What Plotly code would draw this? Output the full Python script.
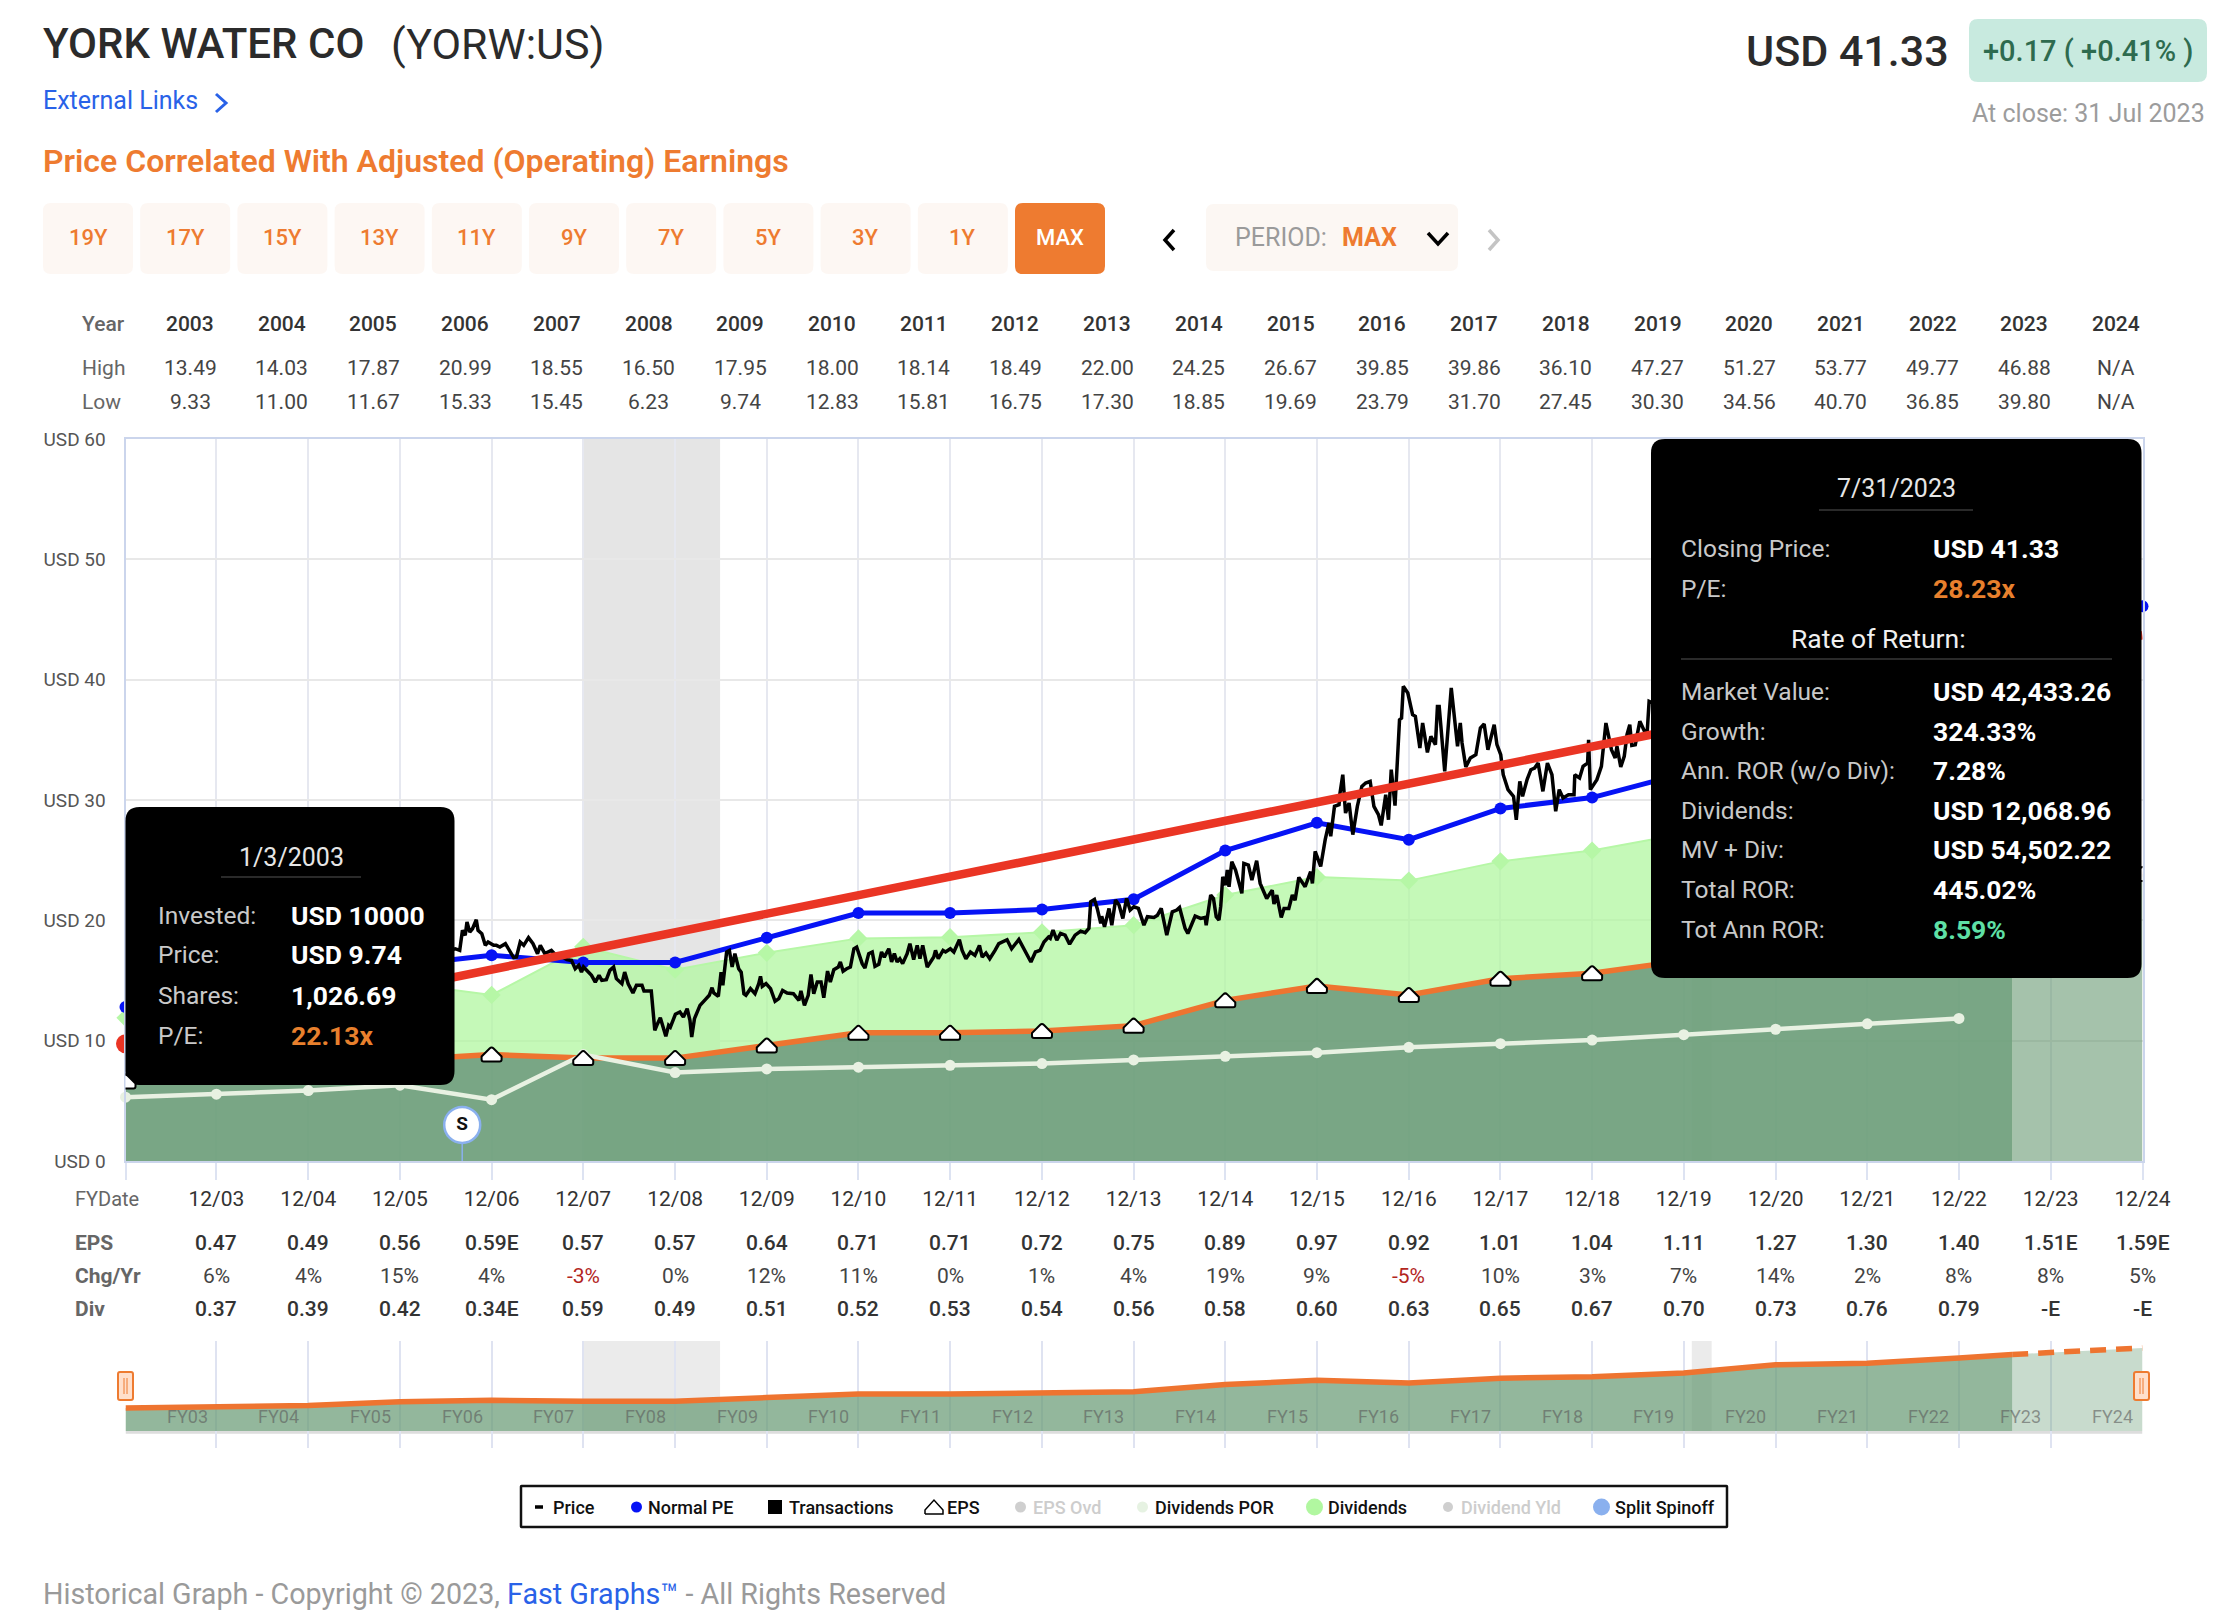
import datetime as dt
import plotly.graph_objects as go

W, H = 2236, 1618
FONT = "Roboto"

# ---------- data ----------
table_years = ["2003","2004","2005","2006","2007","2008","2009","2010","2011","2012","2013","2014","2015","2016","2017","2018","2019","2020","2021","2022","2023","2024"]
table_high = ["13.49","14.03","17.87","20.99","18.55","16.50","17.95","18.00","18.14","18.49","22.00","24.25","26.67","39.85","39.86","36.10","47.27","51.27","53.77","49.77","46.88","N/A"]
table_low = ["9.33","11.00","11.67","15.33","15.45","6.23","9.74","12.83","15.81","16.75","17.30","18.85","19.69","23.79","31.70","27.45","30.30","34.56","40.70","36.85","39.80","N/A"]

fy_labels = ["12/03","12/04","12/05","12/06","12/07","12/08","12/09","12/10","12/11","12/12","12/13","12/14","12/15","12/16","12/17","12/18","12/19","12/20","12/21","12/22","12/23","12/24"]
fy_dates = ["2003-12-31","2004-12-31","2005-12-31","2006-12-31","2007-12-31","2008-12-31","2009-12-31","2010-12-31","2011-12-31","2012-12-31","2013-12-31","2014-12-31","2015-12-31","2016-12-31","2017-12-31","2018-12-31","2019-12-31","2020-12-31","2021-12-31","2022-12-31","2023-12-31","2024-12-31"]
eps_text = ["0.47","0.49","0.56","0.59E","0.57","0.57","0.64","0.71","0.71","0.72","0.75","0.89","0.97","0.92","1.01","1.04","1.11","1.27","1.30","1.40","1.51E","1.59E"]
chg_text = ["6%","4%","15%","4%","-3%","0%","12%","11%","0%","1%","4%","19%","9%","-5%","10%","3%","7%","14%","2%","8%","8%","5%"]
div_text = ["0.37","0.39","0.42","0.34E","0.59","0.49","0.51","0.52","0.53","0.54","0.56","0.58","0.60","0.63","0.65","0.67","0.70","0.73","0.76","0.79","-E","-E"]
mini_labels = ["FY03","FY04","FY05","FY06","FY07","FY08","FY09","FY10","FY11","FY12","FY13","FY14","FY15","FY16","FY17","FY18","FY19","FY20","FY21","FY22","FY23","FY24"]
button_labels = ["19Y","17Y","15Y","13Y","11Y","9Y","7Y","5Y","3Y","1Y","MAX"]
y_tick_vals = [0, 10, 20, 30, 40, 50, 60]
y_tick_text = ["USD 0","USD 10","USD 20","USD 30","USD 40","USD 50","USD 60"]

start_date = "2003-01-03"
last_close = "2023-07-31"
end_date = "2024-12-31"

# fitted lines at the start date and at each fiscal year end
eps_line = [6.6,7.05,7.35,8.4,8.85,8.55,8.55,9.6,10.65,10.65,10.8,11.25,13.35,14.55,13.8,15.15,15.6,16.65,19.05,19.5,21.0,22.65,23.85]
eps_at_close = 22.0
normal_pe = [12.8,13.65,14.2,16.25,17.1,16.5,16.5,18.55,20.6,20.6,20.9,21.75,25.8,28.1,26.7,29.3,30.2,32.2,36.8,37.7,40.6,43.8,46.1]
dividends_top = [11.9,12.4,13.1,14.8,13.8,17.8,15.9,17.3,18.5,18.6,19.0,19.6,22.1,23.6,23.3,24.9,25.8,27.2,28.6,29.7,31.0]
dividends_at_close = 32.0
dividends_por = [5.3,5.55,5.85,6.3,5.1,8.85,7.35,7.65,7.8,7.95,8.1,8.4,8.7,9.0,9.45,9.75,10.05,10.5,10.95,11.4,11.85]
fair_value_dates = ["2003-01-03","2024-12-31"]
fair_value = [9.75,43.7]

recessions = [("2007-12-31","2009-06-28"),("2020-02-01","2020-04-20")]
split_date = ["2006-09-05"]
split_y = [3.0]

# weekly-ish closing prices (decimal year, USD)
price_t = [2003.01,2003.3,2003.6,2004.0,2004.5,2005.0,2005.5,2006.0,2006.3,
2006.60,2006.65,2006.68,2006.71,2006.73,2006.76,2006.79,2006.83,2006.85,2006.89,2006.93,2006.96,2007.02,2007.05,2007.09,2007.15,2007.20,2007.24,2007.27,2007.31,2007.35,2007.40,2007.45,2007.50,2007.53,2007.58,2007.65,2007.70,2007.76,2007.82,2007.87,2007.91,2007.95,2007.98,2008.00,2008.05,2008.09,2008.13,2008.17,2008.20,2008.25,2008.29,2008.33,2008.36,2008.42,2008.45,2008.49,2008.54,2008.58,2008.64,2008.66,2008.74,2008.76,2008.78,2008.81,2008.84,2008.87,2008.90,2008.93,2008.95,2009.00,2009.05,2009.09,2009.13,2009.16,2009.18,2009.21,2009.27,2009.33,2009.37,2009.40,2009.42,2009.47,2009.50,2009.52,2009.56,2009.59,2009.62,2009.65,2009.69,2009.72,2009.75,2009.77,
2009.82,2009.87,2009.91,2009.93,2009.95,2009.99,2010.04,2010.09,2010.13,2010.17,2010.22,2010.29,2010.35,2010.37,2010.41,2010.45,2010.48,2010.51,2010.55,2010.59,2010.62,2010.66,2010.69,2010.73,2010.78,2010.80,2010.83,2010.87,2010.91,2010.95,2010.98,2011.01,2011.04,2011.07,2011.11,2011.15,2011.18,2011.22,2011.25,2011.28,2011.33,2011.36,2011.39,2011.42,2011.45,2011.48,2011.53,2011.56,2011.60,2011.64,2011.67,2011.70,2011.75,2011.82,2011.84,2011.87,2011.92,2011.95,2012.00,2012.04,2012.10,2012.13,2012.17,2012.22,2012.27,2012.32,2012.35,2012.39,2012.43,2012.49,2012.53,2012.62,2012.67,2012.75,2012.80,2012.88,2012.93,2012.98,2013.02,2013.07,
2013.09,2013.12,2013.16,2013.20,2013.25,2013.30,2013.36,2013.42,2013.47,2013.51,2013.53,2013.57,2013.60,2013.64,2013.65,2013.68,2013.73,2013.76,2013.80,2013.84,2013.88,2013.92,2013.96,2014.00,2014.05,2014.11,2014.15,2014.22,2014.26,2014.30,2014.36,2014.42,2014.47,2014.50,2014.56,2014.59,2014.67,2014.73,2014.78,2014.79,2014.84,2014.87,2014.90,2014.93,2014.95,2014.97,2015.00,2015.02,2015.04,2015.07,2015.11,2015.15,2015.18,2015.20,2015.25,2015.29,2015.34,2015.38,2015.45,2015.51,2015.53,2015.56,2015.61,2015.64,2015.69,2015.73,2015.76,2015.80,2015.87,2015.93,2015.95,
2015.98,2016.04,2016.09,2016.13,2016.15,2016.19,2016.24,2016.25,2016.28,2016.31,2016.35,2016.39,2016.44,2016.49,2016.53,2016.58,2016.62,2016.67,2016.70,2016.75,2016.78,2016.81,2016.85,2016.87,2016.90,2016.92,2016.94,2016.99,2017.04,2017.07,2017.12,2017.15,2017.20,2017.24,2017.29,2017.31,2017.33,2017.39,2017.46,2017.53,2017.56,2017.58,2017.62,2017.67,2017.73,2017.78,
2017.82,2017.86,2017.93,2017.96,2018.00,2018.03,2018.08,2018.14,2018.17,2018.21,2018.24,2018.29,2018.33,2018.37,2018.41,2018.46,2018.51,2018.56,2018.60,2018.64,2018.68,2018.74,2018.80,2018.81,2018.86,2018.90,2018.95,2018.96,2018.98,2019.05,2019.10,2019.15,2019.21,2019.25,2019.27,2019.31,2019.35,2019.38,2019.41,2019.43,2019.47,2019.52,2019.57,2019.60,2019.62,2019.65,
2020.0,2020.5,2021.0,2021.5,2022.0,2022.5,2023.0,2023.58]
price_v = [9.74,10.5,12.0,12.5,12.0,13.5,15.0,16.5,17.0,
17.64,17.5,19.17,18.75,19.86,19.03,19.3,20.05,19.17,18.89,17.92,18.2,17.92,17.92,17.78,18.06,17.37,16.9,16.95,18.2,17.92,18.56,18.06,17.23,17.92,17.23,17.5,17.1,17.0,16.73,16.67,15.98,16.26,15.7,16.12,15.7,15.43,14.87,15.43,15.01,15.07,15.84,16.12,15.15,14.73,15.7,14.73,13.96,14.6,14.6,14.13,14.13,12.52,10.86,11.41,11.91,11.13,10.36,11.27,11.13,12.19,12.38,11.96,12.66,11.69,10.3,11.83,12.93,13.43,13.77,14.4,13.96,13.68,15.7,14.6,17.37,17.5,16.12,17.23,15.98,15.7,13.9,13.77,
14.32,13.9,14.74,15.35,14.51,14.74,14.32,13.27,13.49,14.18,13.96,13.9,13.35,14.13,12.93,13.77,15.5,13.9,14.87,14.87,13.57,15.78,14.87,15.9,16.12,16.54,15.78,15.98,16.12,17.64,17.78,17.09,16.4,16.04,17.23,17.37,16.18,16.34,17.37,16.95,17.64,16.54,17.23,16.54,16.81,16.4,17.23,18.06,16.73,17.92,16.81,17.92,16.12,16.95,17.5,16.81,17.5,17.37,17.64,17.37,18.39,17.5,16.81,17.37,17.09,17.92,16.95,17.28,16.81,17.5,18.06,18.39,17.64,18.42,17.64,16.54,17.37,17.5,18.2,18.61,
18.5,19.19,18.36,18.91,18.77,18.02,18.77,19.1,18.97,19.33,21.54,21.74,20.99,19.74,20.35,19.46,20.99,19.6,21.68,21.27,20.16,21.82,20.85,21.13,20.99,19.6,20.3,20.24,20.43,20.99,18.77,20.71,20.85,21.07,19.33,18.91,20.35,20.16,20.24,19.6,22.1,21.82,20.3,20.02,21.18,23.62,22.93,24.18,22.79,24.87,24.18,22.93,22.24,24.73,24.59,23.34,24.95,23.07,21.82,22.51,21.35,22.1,20.24,20.99,20.99,22.1,21.68,23.57,22.79,24.04,23.07,
25.73,24.48,26.7,28.09,26.98,29.47,29.61,30.58,32.1,28.92,29.75,27.12,29.47,31.13,31.41,31.55,29.47,28.78,27.89,30.44,28.36,32.52,29.53,32.24,36.67,36.81,39.45,38.89,37.09,36.95,34.32,36.4,33.96,35.29,34.6,37.78,37.78,32.38,39.31,34.46,36.4,34.74,32.74,33.49,33.77,35.98,
36.31,34.18,36.26,34.6,33.77,32.1,30.86,30.3,28.36,31.55,30.3,31.69,32.52,32.66,33.07,30.72,33.07,32.1,29.06,30.86,30.16,30.44,30.44,32.1,31.83,32.8,33.07,35.01,30.86,31.69,32.8,36.4,34.18,33.49,34.46,32.74,33.63,35.43,36.26,34.54,34.6,36.54,35.7,35.84,38.2,38.1,
40.0,38.0,42.0,39.0,47.0,41.0,45.0,41.33]

left_tip_labels = ["Invested:","Price:","Shares:","P/E:"]
left_tip_values = ["USD 10000","USD 9.74","1,026.69","22.13x"]
right_top_labels = ["Closing Price:","P/E:"]
right_top_values = ["USD 41.33","28.23x"]
right_ror_labels = ["Market Value:","Growth:","Ann. ROR (w/o Div):","Dividends:","MV + Div:","Total ROR:","Tot Ann ROR:"]
right_ror_values = ["USD 42,433.26","324.33%","7.28%","USD 12,068.96","USD 54,502.22","445.02%","8.59%"]

# ---------- helpers ----------
def X(px): return px / W
def Y(py): return 1 - py / H

def year_to_date(t):
    y = int(t)
    first = dt.date(y, 1, 1)
    return (first + dt.timedelta(days=(t - y) * 365.25)).isoformat()

shapes, annos = [], []

def text(px, py, s, size=21, color="#333", weight=400, anchor="left", xref="paper", x=None):
    annos.append(dict(xref=xref, yref="paper", x=X(px) if x is None else x, y=Y(py), text=s, showarrow=False,
                      xanchor=anchor, yanchor="middle", borderpad=0,
                      font=dict(family=FONT, size=size, color=color, weight=weight)))

def rrect(x0, y0, x1, y1, r, fill, line=None, lw=0):
    def P(a, b): return f"{X(a):.6f},{Y(b):.6f}"
    d = (f"M{P(x0+r,y0)} L{P(x1-r,y0)} Q{P(x1,y0)} {P(x1,y0+r)} L{P(x1,y1-r)} Q{P(x1,y1)} {P(x1-r,y1)} "
         f"L{P(x0+r,y1)} Q{P(x0,y1)} {P(x0,y1-r)} L{P(x0,y0+r)} Q{P(x0,y0)} {P(x0+r,y0)} Z")
    shapes.append(dict(type="path", xref="paper", yref="paper", path=d, fillcolor=fill, layer="above",
                       line=dict(color=line or fill, width=lw)))

def polyline(pts, color, lw=3):
    d = "M" + " L".join(f"{X(a):.6f},{Y(b):.6f}" for a, b in pts)
    shapes.append(dict(type="path", xref="paper", yref="paper", path=d, layer="above", line=dict(color=color, width=lw)))

def pxline(x0, y0, x1, y1, color, lw=1):
    shapes.append(dict(type="line", xref="paper", yref="paper", x0=X(x0), x1=X(x1), y0=Y(y0), y1=Y(y1),
                       layer="above", line=dict(color=color, width=lw)))

def dot(x0, x1, yc, color):
    r = (x1 - x0) / 2
    shapes.append(dict(type="circle", xref="paper", yref="paper", x0=X(x0), x1=X(x1), y0=Y(yc - r), y1=Y(yc + r),
                       fillcolor=color, layer="above", line=dict(width=0)))

# ---------- traces ----------
line_dates = [start_date] + fy_dates
ORANGE = "#EE7430"
BLUE = "#0613F5"
RED = "#EA3524"
WHITEL = "#E8F1E2"
GREEN = "#B6F7A6"

fig = go.Figure()
fig.add_trace(go.Scatter(x=line_dates[:21] + [last_close], y=dividends_top + [dividends_at_close], mode="lines",
                         fill="tozeroy", fillcolor="rgba(178,247,160,0.75)", line=dict(color=GREEN, width=2), showlegend=False))
fig.add_trace(go.Scatter(x=line_dates[:21], y=dividends_top, mode="markers", cliponaxis=False,
                         marker=dict(symbol="diamond", size=14, color=GREEN), showlegend=False))
fig.add_trace(go.Scatter(x=line_dates[:21] + [last_close], y=eps_line[:21] + [eps_at_close], mode="lines", fill="tozeroy",
                         fillcolor="rgba(88,131,111,0.7)", line=dict(color=ORANGE, width=5.5), showlegend=False))
fig.add_trace(go.Scatter(x=[last_close] + line_dates[21:], y=[eps_at_close] + eps_line[21:], mode="lines", fill="tozeroy",
                         fillcolor="rgba(91,144,102,0.55)", line=dict(color=ORANGE, width=5.5, dash="dash"), showlegend=False))
fig.add_trace(go.Scatter(x=line_dates[:21], y=dividends_por, mode="lines+markers", cliponaxis=False,
                         line=dict(color=WHITEL, width=4.5), marker=dict(size=11, color=WHITEL), showlegend=False))
fig.add_trace(go.Scatter(x=line_dates, y=normal_pe, mode="lines+markers", cliponaxis=False,
                         line=dict(color=BLUE, width=5), marker=dict(size=12, color=BLUE), showlegend=False))
fig.add_trace(go.Scatter(x=[split_date[0], split_date[0]], y=[0, split_y[0]], mode="lines",
                         line=dict(color="#8AB0EE", width=1.5), showlegend=False))
fig.add_trace(go.Scatter(x=split_date, y=split_y, mode="markers+text", text=["<b>S</b>"], textposition="middle center",
                         textfont=dict(family=FONT, size=19, color="#111"),
                         marker=dict(size=36, color="white", line=dict(color="#8AB0EE", width=2.5)), showlegend=False))
fig.add_trace(go.Scatter(x=[year_to_date(t) for t in price_t], y=price_v, mode="lines",
                         line=dict(color="black", width=3.5), showlegend=False))
fig.add_trace(go.Scatter(x=fair_value_dates, y=fair_value, mode="lines", line=dict(color=RED, width=8.5), showlegend=False))
fig.add_trace(go.Scatter(x=fair_value_dates[:1], y=fair_value[:1], mode="markers", cliponaxis=False,
                         marker=dict(size=19, color=RED), showlegend=False))

# mini navigator
fig.add_trace(go.Scatter(x=line_dates[:21] + [last_close], y=eps_line[:21] + [eps_at_close], xaxis="x2", yaxis="y2", mode="lines",
                         fill="tozeroy", fillcolor="rgba(101,152,114,0.7)", line=dict(color=ORANGE, width=5.5), showlegend=False))
fig.add_trace(go.Scatter(x=[last_close] + line_dates[21:], y=[eps_at_close] + eps_line[21:], xaxis="x2", yaxis="y2", mode="lines",
                         fill="tozeroy", fillcolor="rgba(98,152,112,0.35)", line=dict(color=ORANGE, width=5.5, dash="16px,10px"), showlegend=False))

# ---------- recession bands ----------
for a, b in recessions:
    shapes.append(dict(type="rect", xref="x", yref="y", x0=a, x1=b, y0=0, y1=60, fillcolor="#E5E5E5", layer="below", line=dict(width=0)))
    shapes.append(dict(type="rect", xref="x2", yref="y2", x0=a, x1=b, y0=0, y1=25.86, fillcolor="#EBEBEB", layer="below", line=dict(width=0)))
shapes.append(dict(type="rect", xref="x2", yref="y2", x0=start_date, x1=end_date, y0=-0.8, y1=0, fillcolor="#DDDDDD", layer="below", line=dict(width=0)))

# ---------- EPS house markers ----------
HOUSE = "M -8 -7 Q -10 -7 -10 -5 L -10 -2 L -2 6 Q 0 8 2 6 L 10 -2 L 10 -5 Q 10 -7 8 -7 Z"
def house(d, v):
    shapes.append(dict(type="path", xref="x", yref="y", xsizemode="pixel", ysizemode="pixel", xanchor=d, yanchor=v,
                       path=HOUSE, fillcolor="white", layer="above", line=dict(color="black", width=2)))
for d, v in zip(line_dates[1:], eps_line[1:]):
    house(d, v)

# ---------- header ----------
text(42, 44, "YORK WATER CO", 42, "#2B2B2B", 500)
text(390, 44, "(YORW:US)", 43, "#2B2B2B", 400)
text(42, 101, "External Links", 25, "#2962E8")
polyline([(216, 94), (226, 103), (216, 112)], "#2962E8", 3)
text(42, 161, "Price Correlated With Adjusted (Operating) Earnings", 32, "#EE7B30", 600)
text(1950, 51, "USD 41.33", 43, "#2B2B2B", 500, "right")
rrect(1969, 19, 2207, 82, 9, "#C8EADF")
text(2088, 51, "+0.17 ( +0.41% )", 29, "#2E6B4F", 500, "center")
text(2206, 114, "At close: 31 Jul 2023", 25, "#9C9C9C", 400, "right")

for i, b in enumerate(button_labels):
    x0 = 43 + 97.2 * i
    active = b == "MAX"
    rrect(x0, 203, x0 + 90, 274, 8, "#EE7B30" if active else "#FDF7F3")
    text(x0 + 45, 238, b, 22, "white" if active else "#EE7B30", 500, "center")

polyline([(1174, 230), (1165, 240), (1174, 250)], "black", 3.5)
rrect(1206, 204, 1458, 271, 8, "#FCF7F3")
text(1234, 238, "PERIOD:", 25, "#9A9A9A")
text(1341, 238, "MAX", 25, "#EE7B30", 700)
polyline([(1428, 233), (1438, 244), (1448, 233)], "black", 3.5)
polyline([(1489, 230), (1498, 240), (1489, 250)], "#C4C4C4", 3.5)

# ---------- top table ----------
text(81, 324, "Year", 21, "#666", 500)
text(81, 368, "High", 21, "#666")
text(81, 402, "Low", 21, "#666")
for i, (y, hi, lo) in enumerate(zip(table_years, table_high, table_low)):
    cx = 190 + 91.72 * i
    text(cx, 324, y, 21, "#333", 500, "center")
    text(cx, 368, hi, 21, "#444", 400, "center")
    text(cx, 402, lo, 21, "#444", 400, "center")

# ---------- bottom table ----------
text(74, 1199, "FYDate", 20, "#666")
text(74, 1243, "EPS", 21, "#666", 700)
text(74, 1276, "Chg/Yr", 21, "#666", 700)
text(74, 1309, "Div", 21, "#666", 700)
for d, e, c, v in zip(fy_dates, eps_text, chg_text, div_text):
    text(0, 1243, e, 21, "#333", 500, "center", "x", d)
    text(0, 1276, c, 21, "#B3261E" if c.startswith("-") else "#444", 400, "center", "x", d)
    text(0, 1309, v, 21, "#333", 500, "center", "x", d)

# ---------- navigator details ----------
for i, lab in enumerate(mini_labels):
    text(187 + 91.67 * i, 1416, lab, 18, "rgba(90,90,90,0.6)", 400, "center")
for x0 in (118, 2134):
    rrect(x0, 1372, x0 + 15, 1400, 2, "#FFDFCB", "#EE7B30", 2)
    pxline(x0 + 6, 1378, x0 + 6, 1394, "#EE7B30", 1)
    pxline(x0 + 9, 1378, x0 + 9, 1394, "#EE7B30", 1)

# ---------- legend ----------
rrect(521, 1486, 1727, 1527, 0.5, "white", "#111", 2.5)
LY = 1507
pxline(535, LY, 543, LY, "black", 3.5)
text(552, LY, "Price", 18, "#111", 500)
dot(631, 642, LY, "#0613F5")
text(647, LY, "Normal PE", 18, "#111", 500)
shapes.append(dict(type="rect", xref="paper", yref="paper", x0=X(768), x1=X(782), y0=Y(1514), y1=Y(1500), fillcolor="black", layer="above", line=dict(width=0)))
text(788, LY, "Transactions", 18, "#111", 500)
polyline([(925, 1514), (925, 1510), (934, 1500), (943, 1510), (943, 1514), (925, 1514)], "black", 1.5)
text(946, LY, "EPS", 18, "#111", 500)
dot(1015, 1026, LY, "#CFCFCF")
text(1032, LY, "EPS Ovd", 18, "#CDCDCD", 500)
dot(1137, 1148, LY, "#E6F2E2")
text(1154, LY, "Dividends POR", 18, "#111", 500)
dot(1306, 1323, LY, "#B1F7A0")
text(1327, LY, "Dividends", 18, "#111", 500)
dot(1443, 1453, LY, "#CFCFCF")
text(1460, LY, "Dividend Yld", 18, "#CDCDCD", 500)
dot(1593, 1610, LY, "#8AB0EE")
text(1614, LY, "Split Spinoff", 18, "#111", 500)

# ---------- footer ----------
text(42, 1594, 'Historical Graph - Copyright © 2023, <span style="color:#2962E8">Fast Graphs™</span> - All Rights Reserved', 28.7, "#9A9A9A")

# ---------- tooltips ----------
rrect(125.5, 807, 454.5, 1085, 14, "black")
house(line_dates[0], eps_line[0])
text(291, 857, "1/3/2003", 25, "#E6E6E6", 400, "center")
pxline(221, 877, 361, 877, "#555", 1)
for i, (a, b) in enumerate(zip(left_tip_labels, left_tip_values)):
    yy = 915 + 40 * i
    text(157, yy, a, 24.5, "#C9C9C9")
    text(290, yy, b, 26.5, "#E8802D" if a == "P/E:" else "white", 700)

rrect(1651, 439, 2141.5, 978, 14, "black")
text(1896, 489, "7/31/2023", 25, "#E6E6E6", 400, "center")
pxline(1819, 510, 1973, 510, "#555", 1)
for i, (a, b) in enumerate(zip(right_top_labels, right_top_values)):
    yy = 548 + 40 * i
    text(1680, yy, a, 24.5, "#C9C9C9")
    text(1932, yy, b, 26.5, "#E8802D" if a == "P/E:" else "white", 700)
text(1878, 638, "Rate of Return:", 26.5, "#F0F0F0", 400, "center")
pxline(1681, 659, 2112, 659, "#555", 1)
for i, (a, b) in enumerate(zip(right_ror_labels, right_ror_values)):
    yy = 691.5 + 39.6 * i
    text(1680, yy, a, 24.5, "#C9C9C9")
    text(1932, yy, b, 26.5, "#5FE0A6" if a.startswith("Tot Ann") else "white", 700)

# ---------- layout ----------
tick_vals = [start_date] + fy_dates
tick_text = [""] + fy_labels
x_range = [start_date, end_date]
fig.update_layout(
    width=W, height=H, autosize=False, margin=dict(l=0, r=0, t=0, b=0, pad=0, autoexpand=False),
    paper_bgcolor="white", plot_bgcolor="white", showlegend=False, hovermode=False,
    font=dict(family=FONT),
    shapes=shapes, annotations=annos,
    xaxis=dict(domain=[X(125.5), X(2142.5)], range=x_range, type="date", tickmode="array", tickvals=tick_vals, ticktext=tick_text,
               showgrid=True, gridcolor="#E6E8F0", gridwidth=2, showline=True, linecolor="#CBD5EC", linewidth=2, mirror=True,
               ticks="outside", ticklen=17, tickcolor="#DDE3F2", tickwidth=2, ticklabelstandoff=1,
               tickfont=dict(family=FONT, size=21, color="#333"), anchor="y", zeroline=False),
    yaxis=dict(domain=[Y(1161), Y(439)], range=[0, 60], tickmode="array", tickvals=y_tick_vals, ticktext=y_tick_text,
               showgrid=True, gridcolor="#E8E8E8", gridwidth=2, zeroline=False,
               showline=True, linecolor="#CBD5EC", linewidth=2, mirror=True, ticks="", ticklabelstandoff=14,
               tickfont=dict(family=FONT, size=19, color="#555"), anchor="x"),
    xaxis2=dict(domain=[X(125.5), X(2142.5)], range=x_range, type="date", tickmode="array", tickvals=tick_vals,
                showticklabels=False, showgrid=True, gridcolor="#DFE3F1", gridwidth=2, showline=False, zeroline=False,
                ticks="", anchor="y2"),
    yaxis2=dict(domain=[Y(1448), Y(1341)], range=[-4.885, 25.86], showgrid=False, zeroline=False, showline=False,
                showticklabels=False, ticks="", anchor="x2"),
)

post = """
document.documentElement.style.overflow='hidden';
document.body.style.margin='0';
function unclip(){document.querySelectorAll('.shapelayer path').forEach(function(p){p.removeAttribute('clip-path');});}
unclip(); setTimeout(unclip,50); setTimeout(unclip,500);
"""
fig.write_html("out.html", config=dict(displayModeBar=False, responsive=False), post_script=post)
